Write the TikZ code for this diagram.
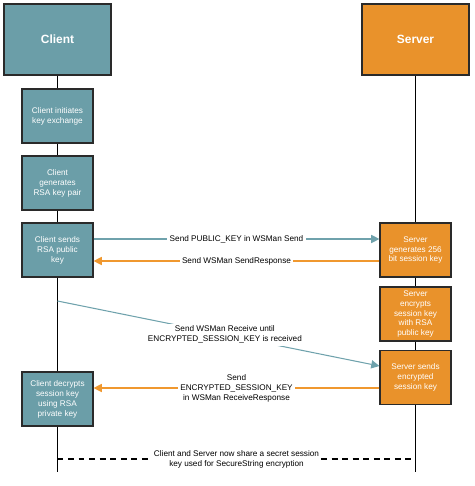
\documentclass[tikz,border=0pt]{standalone}
\usepackage{fontspec}
\setmainfont{Liberation Sans}
\usetikzlibrary{arrows.meta}

% Colori del diagramma
\definecolor{clientcol}{HTML}{6B9EA8}
\definecolor{servercol}{HTML}{E9922B}
\definecolor{bordo}{HTML}{2A2A2A}
\definecolor{frecciaC}{HTML}{6FA2AC}
\definecolor{frecciaS}{HTML}{F0982F}

\begin{document}
\begin{tikzpicture}[x=0.03cm, y=-0.03cm, >={Triangle[length=7pt,width=7pt]}]
% Stili per intestazioni, passi e messaggi
\tikzset{
  header/.style={draw=bordo, line width=1.2pt, text=white, minimum width=3.21cm, minimum height=2.13cm, font=\fontsize{10.2}{12}\selectfont\bfseries},
  passo/.style={draw=bordo, line width=1pt, text=white, minimum width=2.13cm, minimum height=1.62cm, align=center, inner sep=1pt, font=\fontsize{7}{8.5}\selectfont},
  vita/.style={line width=1.2pt, black},
  msg/.style={fill=white, align=center, inner sep=2pt, text=black, font=\fontsize{7}{8.5}\selectfont}
}
\useasboundingbox (0,0) rectangle (474,486);

% Parametri: ascisse delle due linee di vita
\def\xc{57.5}
\def\xs{415.5}

% --- INTESTAZIONI ---
\node[header, fill=clientcol] (client) at (\xc,39.5) {Client};
\node[header, fill=servercol] (server) at (\xs,39.5) {Server};

% --- PASSI DEL CLIENT ---
\node[passo, fill=clientcol] (c1) at (\xc,116) {Client initiates\\key exchange};
\node[passo, fill=clientcol] (c2) at (\xc,183) {Client\\generates\\RSA key pair};
\node[passo, fill=clientcol] (c3) at (\xc,250) {Client sends\\RSA public\\key};
\node[passo, fill=clientcol] (c4) at (\xc,399) {Client decrypts\\session key\\using RSA\\private key};

% --- PASSI DEL SERVER ---
\node[passo, fill=servercol] (s1) at (\xs,250) {Server\\generates 256\\bit session key};
\node[passo, fill=servercol] (s2) at (\xs,314) {Server\\encrypts\\session key\\with RSA\\public key};
\node[passo, fill=servercol] (s3) at (\xs,377.7) {Server sends\\encrypted\\session key};

% Fine delle linee di vita
\coordinate (cfine) at (\xc,472);
\coordinate (sfine) at (\xs,472);

% --- LINEE DI VITA ---
\draw[vita] (client) -- (c1);
\draw[vita] (c1) -- (c2);
\draw[vita] (c2) -- (c3);
\draw[vita] (c3) -- (c4);
\draw[vita] (c4) -- (cfine);
\draw[vita] (server) -- (s1);
\draw[vita] (s1) -- (s2);
\draw[vita] (s2) -- (s3);
\draw[vita] (s3) -- (sfine);

% --- MESSAGGI ---
\draw[->, frecciaC, line width=0.9pt] (c3.east |- 0,239) -- node[msg] {Send PUBLIC\_KEY in WSMan Send} (s1.west |- 0,239);
\draw[->, frecciaS, line width=0.9pt] (s1.west |- 0,261) -- node[msg] {Send WSMan SendResponse} (c3.east |- 0,261);
\draw[->, frecciaC, line width=0.9pt] (client |- 0,301) -- node[msg, pos=0.52] {Send WSMan Receive until\\ENCRYPTED\_SESSION\_KEY is received} (s3.west |- 0,366);
\draw[->, frecciaS, line width=0.9pt] (s3.west |- 0,388) -- node[msg] {Send\\ENCRYPTED\_SESSION\_KEY\\in WSMan ReceiveResponse} (c4.east |- 0,388);

% Chiave condivisa
\draw[black, line width=1.1pt, dash pattern=on 5pt off 4pt] (client |- 0,459) -- node[msg] {Client and Server now share a secret session\\key used for SecureString encryption} (server |- 0,459);

\end{tikzpicture}
\end{document}
